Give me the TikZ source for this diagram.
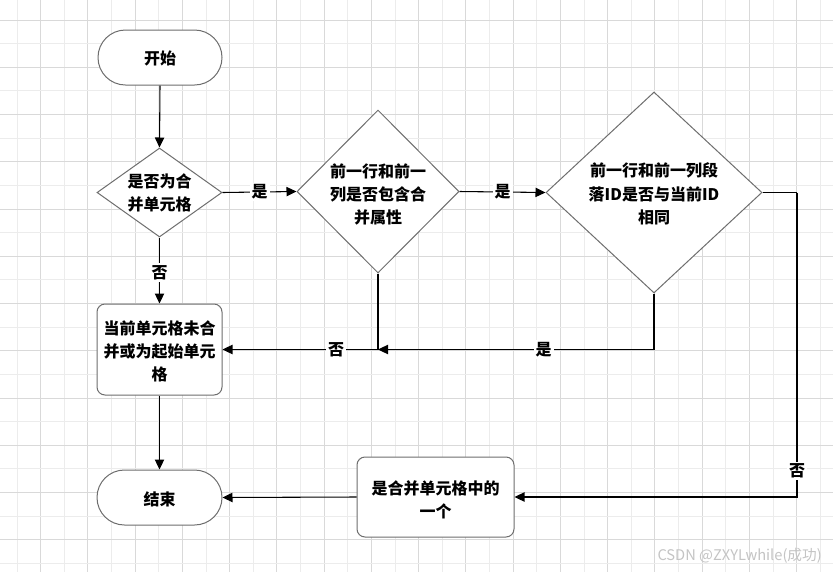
\documentclass[tikz,border=0pt]{standalone}
\usepackage{fontspec}
\newfontfamily\cjk{Noto Sans CJK SC}
\usetikzlibrary{arrows.meta,shapes.geometric}
\definecolor{gridlight}{HTML}{ECECEC}
\definecolor{griddark}{HTML}{D9D9D9}
\definecolor{shapeline}{HTML}{6E6E6E}
\definecolor{wmark}{HTML}{C4C4C4}
\tikzset{
  txt/.style={font=\cjk\bfseries\fontsize{12pt}{17.5pt}\selectfont, align=center, inner sep=0pt},
  terminal/.style={draw=shapeline, line width=0.75pt, rectangle, rounded corners=20.6pt, fill=white, inner sep=0pt},
  procbox/.style={draw=shapeline, line width=0.75pt, rectangle, rounded corners=6pt, fill=white, inner sep=0pt},
  decision/.style={draw=shapeline, line width=0.75pt, diamond, fill=white, inner sep=0pt},
  conn/.style={draw=black, line width=0.8pt, -{Triangle[length=7.5pt,width=7pt]}},
  plainconn/.style={draw=black, line width=0.8pt},
  elabel/.style={font=\cjk\bfseries\fontsize{12pt}{14pt}\selectfont, fill=white, inner sep=1.5pt}
}
\begin{document}
\begin{tikzpicture}[x=0.75pt,y=-0.75pt]
\useasboundingbox (0,0) rectangle (833,572);
\fill[white] (0,0) rectangle (833,572);
% grid
\foreach \k in {0,...,34} {
  \pgfmathsetmacro{\gx}{17+23.625*\k}
  \pgfmathtruncatemacro{\odd}{mod(\k,2)}
  \ifnum\odd=1
    \draw[griddark, line width=0.75pt] (\gx,0) -- (\gx,572);
  \else
    \draw[gridlight, line width=0.75pt] (\gx,0) -- (\gx,572);
  \fi
}
\foreach \k in {0,...,23} {
  \pgfmathsetmacro{\gy}{20+23.625*\k}
  \pgfmathtruncatemacro{\odd}{mod(\k,2)}
  \ifnum\odd=0
    \draw[griddark, line width=0.75pt] (0,\gy) -- (833,\gy);
  \else
    \draw[gridlight, line width=0.75pt] (0,\gy) -- (833,\gy);
  \fi
}
% shapes
\node[terminal, minimum width=93pt, minimum height=41.25pt] (start) at (160,57.5) {};
\node[txt] (starttxt) at (160,58) {开始};

\node[decision, minimum width=93.75pt, minimum height=66.75pt] (d1) at (159.5,192.5) {};
\node[txt] (d1txt) at (159.5,193) {是否为合\\并单元格};

\node[decision, minimum width=121.5pt, minimum height=122.25pt] (d2) at (378,191.5) {};
\node[txt] (d2txt) at (378,194.5) {前一行和前一\\列是否包含合\\并属性};

\node[decision, minimum width=162pt, minimum height=150.75pt] (d3) at (654,192.5) {};
\node[txt] (d3txt) at (654,194) {前一行和前一列段\\落ID是否与当前ID\\相同};

\node[procbox, minimum width=93.75pt, minimum height=68.25pt] (box1) at (159.5,349.5) {};
\node[txt] (box1txt) at (159.5,351.5) {当前单元格未合\\并或为起始单元\\格};

\node[terminal, minimum width=93.75pt, minimum height=41.25pt] (end) at (159.5,497.5) {};
\node[txt] (endtxt) at (159.5,499) {结束};

\node[procbox, minimum width=117.75pt, minimum height=60pt] (box2) at (435.5,497) {};
\node[txt] (box2txt) at (435.5,500) {是合并单元格中的\\一个};

% connectors
\coordinate (j) at (d2.south |- box1.east);
\coordinate (r) at (797,192.5);

\draw[conn] (start.south) -- (d1.north);
\draw[conn] (d1.east) -- node[elabel, pos=0.5] (l1) {是} (d2.west);
\draw[conn] (d2.east) -- node[elabel, pos=0.5] (l2) {是} (d3.west);
\draw[conn] (d1.south) -- node[elabel, pos=0.53] (l3) {否} (box1.north);
\draw[conn] (d2.south) |- node[elabel, pos=0.635] (l4) {否} (box1.east);
\draw[conn] (d3.south) |- node[elabel, pos=0.70] (l5) {是} (j);
\draw[conn] (box1.south) -- (end.north);
\draw[plainconn] (d3.east) -- (r);
\draw[conn] (r) |- node[elabel, pos=0.457] (l6) {否} (box2.east);
\draw[conn] (box2.west) -- (end.east);

% watermark
\node[font=\cjk\fontsize{11pt}{13pt}\selectfont, text=wmark, anchor=east, inner sep=0pt] (wm) at (822,556) {CSDN @ZXYLwhile(成功)};
\end{tikzpicture}
\end{document}
